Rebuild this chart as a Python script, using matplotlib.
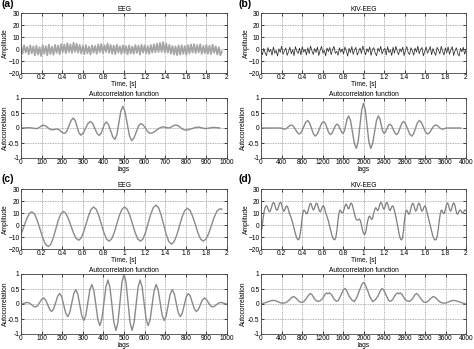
import numpy as np
import matplotlib
matplotlib.use("Agg")
import matplotlib.pyplot as plt

plt.rcParams['font.family'] = ['Liberation Sans', 'DejaVu Sans']

# --- sygnały czasowe ---
# (a) EEG, próbki co 0.015 s od 0 do 1.95 s
eeg_a = [2.5, -3.8, 3.2, -2.9, 1.8, -4.5, 3.0, -3.6, 2.2, -5.2,
         2.8, -4.6, 1.5, -5.8, 3.1, -3.9, 2.4, -5.3, 3.6, -4.1,
         2.0, -4.8, 3.4, -3.2, 2.9, -4.4, 4.1, -2.8, 3.7, -3.5,
         4.8, -2.6, 3.9, -3.3, 5.2, -2.4, 4.4, -3.0, 3.5, -3.8,
         2.7, -4.2, 3.3, -3.6, 1.9, -4.5, 3.0, -3.1, 2.6, -4.0,
         3.8, -2.7, 4.2, -3.4, 3.1, -2.5, 4.6, -3.2, 3.4, -3.9,
         2.9, -4.3, 3.6, -3.0, 2.3, -4.1, 3.2, -3.5, 2.5, -4.4,
         3.0, -3.7, 2.1, -4.0, 3.3, -3.2, 2.8, -4.6, 3.5, -3.0,
         3.0, -3.6, 2.4, -4.1, 3.3, -3.0, 3.9, -2.8, 4.4, -2.5,
         5.1, -2.4, 5.8, -2.7, 4.6, -3.0, 3.5, -3.9, 2.6, -4.6,
         2.2, -5.1, 2.9, -4.7, 3.1, -4.0, 2.5, -4.9, 3.2, -3.8,
         3.8, -3.0, 4.1, -3.5, 3.3, -2.9, 3.9, -4.0, 2.6, -3.4,
         3.4, -3.9, 2.8, -4.3, 3.6, -3.1, 2.3, -4.5, 1.5, -5.2, -2.0]

# (b) KIV-EEG, 0..2 s
eeg_b = [-1.0, -4.8, 0.5, -3.2, -5.6, 1.2, -2.4, -0.3, -5.1, 1.8,
         -3.5, -1.2, -5.8, 0.2, -2.8, 2.3, -4.4, -1.6, 0.9, -5.3,
         -2.1, 1.5, -4.0, -0.6, -5.5, 2.0, -1.8, -3.7, 0.7, -4.9,
         1.9, -2.6, -0.2, -5.0, 1.1, -3.9, 2.4, -1.4, -4.6, 0.4,
         -2.9, 1.6, -5.4, -0.9, 2.1, -3.3, -1.1, -5.7, 0.8, -2.2,
         1.3, -4.7, -0.5, 2.2, -3.6, -1.9, -5.2, 1.0, -2.7, 0.1,
         -4.3, 1.7, -1.5, -5.9, 0.6, -3.0, 2.0, -4.5, -0.8, 1.4,
         -5.1, -2.0, 0.9, -3.8, 2.5, -1.3, -4.9, 0.3, -2.5, 1.8,
         -5.3, -0.4, 1.2, -3.4, -5.6, 0.7, -2.1, 2.2, -4.2, -1.0,
         0.5, -5.0, 1.9, -2.9, -0.7, -5.4, 1.5, -3.6, 2.3, -1.7,
         -4.8, 0.2, -2.3, 1.6, -5.5, -0.9, 2.0, -3.1, -4.6, 1.1,
         -1.6, -5.2, 0.8, -2.6, 2.4, -4.0, -0.3, 1.3, -5.7, -2.0,
         1.7, -3.5, -1.2, 2.1, -4.7, 0.4, -2.8, -5.3, 1.4, -0.8,
         -4.1, 2.2, -1.9, -5.0, 0.9, -3.2, 1.8, -4.4, -0.5, 2.0,
         -5.4, -1.4, 1.0, -3.7, -5.8, 0.6, -2.4, 1.5, -4.3, -1.0]

# (c) EEG
eeg_c_t = [0, 0.015, 0.03, 0.055, 0.08, 0.105, 0.132, 0.158, 0.185, 0.212, 0.238, 0.265,
           0.289, 0.313, 0.338, 0.362, 0.386, 0.41, 0.435, 0.46, 0.485, 0.51, 0.535, 0.56,
           0.584, 0.608, 0.633, 0.657, 0.681, 0.705, 0.73, 0.755, 0.78, 0.805, 0.83, 0.855,
           0.88, 0.905, 0.93, 0.955, 0.98, 1.005, 1.031, 1.057, 1.083, 1.108, 1.134, 1.16,
           1.185, 1.21, 1.235, 1.26, 1.285, 1.31, 1.335, 1.36, 1.385, 1.41, 1.435, 1.46,
           1.486, 1.512, 1.538, 1.563, 1.589, 1.615, 1.641, 1.667, 1.693, 1.718, 1.744, 1.77,
           1.797, 1.823, 1.85, 1.877, 1.903, 1.93, 1.95]
eeg_c = [-7.7, -4.4, -0.8, 5.1, 9.4, 11, 9.1, 3.8, -3.5, -10.8, -16.1, -18,
         -16.0, -10.7, -3.4, 4.0, 9.3, 11.3, 9.7, 5.3, -0.7, -6.7, -11.1, -12.7,
         -10.8, -5.8, 1.2, 8.1, 13.1, 15, 13.1, 7.9, 0.8, -6.4, -11.6, -13.5,
         -11.6, -6.4, 0.8, 7.9, 13.1, 15, 13.1, 7.9, 0.8, -6.4, -11.6, -13.5,
         -11.5, -6.0, 1.6, 9.1, 14.6, 16.6, 14.4, 8.5, 0.3, -7.9, -13.8, -16,
         -14.0, -8.5, -1, 6.5, 12.0, 14, 12.2, 7.1, 0.3, -6.6, -11.7, -13.5,
         -11.7, -6.8, 0, 6.8, 11.7, 13.5, 13.2]

# (d) KIV-EEG, próbki co 0.01 s
eeg_d = [-7, -2, 5, 11, 14.5, 16, 15.5, 13, 11, 11.5, 14, 17, 18.8, 18, 15, 12.5, 12.5, 15, 18, 19,
         17.5, 14, 11.5, 12, 14.5, 16, 15, 12, 9, 7, 4.5, 1.5, -2, -5.5, -8.5, -11, -12.3, -12, -9, -3,
         5, 11, 12.5,
         11.5, 9.5, 9.5, 12, 15.5, 18, 17.5, 14.5, 12.5, 13.5, 16.5, 18.3, 17.5, 14.5, 11.5, 11, 13, 15.5, 16, 14,
         10.5, 8, 5.5, 2.5, -1, -4.5, -8, -10.5, -12, -12.3, -10.5, -5, 3, 9.5, 12.5,
         11.5, 10, 10.5, 13, 16, 17.5, 16, 13.5, 14, 17, 18.3, 17, 13.5, 10, 6.5, 4.5, 4, 4.5, 5, 3.5,
         0, -4, -7, -8, -6.5, -2, 3, 6.5, 7.5, 6, 4.5, 6, 10, 13,
         14.5, 13, 12, 14, 17.5, 19, 17.5, 14.5, 13, 15, 18, 18.8, 16.5, 13, 12, 14, 16, 15.5, 12.5, 9,
         5, 0.5, -4, -8.5, -11.5, -12.5, -11, -5, 4, 10.5, 12.5,
         11, 9, 9.5, 13, 16.5, 18.2, 17, 13.5, 11.5, 13, 16.5, 18.3, 17, 13.5, 11.5, 12.5, 15, 16, 14, 10.5,
         7, 3.5, 0, -3.5, -7, -10, -11.8, -12.5, -12, -9, -3, 4, 10, 12.5,
         11.5, 9.5, 10, 13.5, 17, 18.3, 16.5, 13, 11.5, 13.5, 17, 18.5, 17, 13, 9.5, 9, 11, 12.5, 12, 10.5,
         10, 11.5, 12.5, 12]

# --- funkcje autokorelacji ---
acf_a_lag = [0, 40, 75, 83.5, 92, 100.5, 109, 119.25, 129.5, 139.75, 150, 156, 162.5, 169, 175,
             184, 193.5, 203, 212, 222.5, 233, 243.5, 254, 263, 272, 281, 290, 301.75, 313.5, 325.25,
             337, 347.75, 358.5, 369.25, 380, 388.5, 397, 405.5, 414, 424.5, 435, 445.5, 456, 465.5,
             475, 484.5, 494, 504.75, 515.5, 526.25, 537, 548.25, 559.5, 570.75, 582, 593.25, 604.5,
             615.75, 627, 642.75, 658.5, 674.25, 690, 702, 715, 724, 733.5, 743, 752, 763, 774.5,
             786, 797, 813, 829.5, 846, 862, 878, 895, 915, 935, 950, 965]
acf_a = [0, 0.01, -0.02, -0.004, 0.035, 0.074, 0.09, 0.068, 0.015, -0.038, -0.06, -0.056, -0.048,
         -0.039, -0.035, -0.056, -0.108, -0.159, -0.18, -0.105, 0.075, 0.255, 0.33, 0.246, 0.045,
         -0.156, -0.24, -0.173, -0.01, 0.153, 0.22, 0.151, -0.015, -0.181, -0.25, -0.184, -0.025,
         0.134, 0.2, 0.115, -0.09, -0.295, -0.38, -0.219, 0.17, 0.559, 0.72, 0.553, 0.15, -0.253,
         -0.42, -0.336, -0.135, 0.067, 0.15, 0.102, -0.015, -0.132, -0.18, -0.148, -0.07, 0.008,
         0.04, 0.02, 0.0, 0.015, 0.05, 0.085, 0.1, 0.075, 0.015, -0.045, -0.07, -0.055, -0.02,
         0.015, 0.03, 0.005, -0.02, 0.0, 0.02, 0.01, 0.0]

acf_b_lag = [0, 380, 400, 420, 440, 460, 493.75, 527.5, 561.25, 595, 633.75, 672.5, 711.25, 750,
             790, 830, 870, 910, 947.5, 985, 1022.5, 1060, 1100, 1140, 1180, 1220, 1253.75, 1287.5,
             1321.25, 1355, 1387.5, 1420, 1452.5, 1485, 1513.75, 1542.5, 1571.25, 1600, 1627.5, 1655,
             1682.5, 1710, 1747.5, 1785, 1822.5, 1860, 1895, 1930, 1965, 2000, 2035, 2070, 2105, 2140,
             2177.5, 2215, 2252.5, 2290, 2317.5, 2345, 2372.5, 2400, 2428.75, 2457.5, 2486.25, 2515,
             2547.5, 2580, 2612.5, 2645, 2678.75, 2712.5, 2746.25, 2780, 2820, 2860, 2900, 2940,
             2977.5, 3015, 3052.5, 3090, 3130, 3170, 3210, 3250, 3288.75, 3327.5, 3366.25, 3405,
             3438.75, 3472.5, 3506.25, 3540, 3560, 3580, 3600, 3620, 3900]
acf_b = [0, 0, -0.006, -0.02, -0.034, -0.04, -0.019, 0.03, 0.079, 0.1, 0.056, -0.05, -0.156, -0.2,
         -0.134, 0.025, 0.184, 0.25, 0.174, -0.01, -0.194, -0.27, -0.198, -0.025, 0.148, 0.22, 0.156,
         0, -0.156, -0.22, -0.169, -0.045, 0.079, 0.13, 0.085, -0.025, -0.135, -0.18, -0.095, 0.11,
         0.315, 0.4, 0.242, -0.14, -0.522, -0.68, -0.46, 0.07, 0.6, 0.82, 0.6, 0.07, -0.46, -0.68,
         -0.522, -0.14, 0.242, 0.4, 0.315, 0.11, -0.095, -0.18, -0.135, -0.025, 0.085, 0.13, 0.079,
         -0.045, -0.169, -0.22, -0.156, 0, 0.156, 0.22, 0.148, -0.025, -0.198, -0.27, -0.194, -0.01,
         0.174, 0.25, 0.184, 0.025, -0.134, -0.2, -0.156, -0.05, 0.056, 0.1, 0.079, 0.03, -0.019,
         -0.04, -0.034, -0.02, -0.006, 0, 0]

acf_c_lag = [0, 8, 16, 24, 32, 41.75, 51.5, 61.25, 71, 80.75, 90.5, 100.25, 110, 119.75, 129.5,
             139.25, 149, 158.75, 168.5, 178.25, 188, 197.75, 207.5, 217.25, 227, 236.75, 246.5,
             256.25, 266, 275.75, 285.5, 295.25, 305, 314.75, 324.5, 334.25, 344, 353.75, 363.5,
             373.25, 383, 392.75, 402.5, 412.25, 422, 431.75, 441.5, 451.25, 461, 470.75, 480.5,
             490.25, 500,
             509.75, 519.5, 529.25, 539, 548.75, 558.5, 568.25, 578, 587.75, 597.5, 607.25, 617,
             626.75, 636.5, 646.25, 656, 665.75, 675.5, 685.25, 695, 704.75, 714.5, 724.25, 734,
             743.75, 753.5, 763.25, 773, 782.75, 792.5, 802.25, 812, 821.75, 831.5, 841.25, 851,
             860.75, 870.5, 880.25, 890, 899.75, 909.5, 919.25, 929, 938.75, 948.5, 958.25, 968,
             976, 984, 992, 1000]
acf_c = [0, 0.007, 0.025, 0.043, 0.05, 0.028, -0.025, -0.078, -0.1, -0.056, 0.05, 0.156, 0.2,
         0.134, -0.025, -0.184, -0.25, -0.162, 0.05, 0.262, 0.35, 0.237, -0.035, -0.307, -0.42,
         -0.288, 0.03, 0.348, 0.48, 0.329, -0.035, -0.399, -0.55, -0.374, 0.05, 0.474, 0.65, 0.449,
         -0.035, -0.519, -0.72, -0.497, 0.04, 0.577, 0.8, 0.554, -0.04, -0.634, -0.88, -0.605, 0.06,
         0.725, 1.0,
         0.725, 0.06, -0.605, -0.88, -0.634, -0.04, 0.554, 0.8, 0.577, 0.04, -0.497, -0.72, -0.519,
         -0.035, 0.449, 0.65, 0.474, 0.05, -0.374, -0.55, -0.399, -0.035, 0.329, 0.48, 0.348, 0.03,
         -0.288, -0.42, -0.307, -0.035, 0.237, 0.35, 0.262, 0.05, -0.162, -0.25, -0.184, -0.025,
         0.134, 0.2, 0.156, 0.05, -0.056, -0.1, -0.078, -0.025, 0.028, 0.05, 0.043, 0.025, 0.007, 0]

acf_d_lag = [0, 60, 130, 200, 250, 300, 350, 400, 450, 500, 550, 600, 640, 680, 730, 780, 830, 880,
             930, 965, 1000, 1050, 1100, 1150, 1200, 1250, 1280, 1310, 1340, 1380, 1430, 1470, 1510,
             1560, 1610, 1640, 1670, 1720, 1770, 1820, 1870, 1920, 1970, 2000,
             2030, 2080, 2130, 2180, 2230, 2280, 2330, 2360, 2390, 2440, 2490, 2530, 2570, 2620,
             2660, 2690, 2720, 2750, 2800, 2850, 2900, 2950, 3000, 3035, 3070, 3120, 3170, 3220,
             3270, 3320, 3360, 3400, 3450, 3500, 3550, 3600, 3650, 3700, 3750, 3800, 3870, 3940, 4000]
acf_d = [0, 0.03, 0.07, 0.11, 0.12, 0.1, 0.06, 0.03, 0.03, 0.06, 0.13, 0.22, 0.25, 0.2, 0.11, 0.05,
         0.07, 0.17, 0.3, 0.35, 0.3, 0.16, 0.09, 0.1, 0.18, 0.32, 0.37, 0.34, 0.37, 0.3, 0.15, 0.09,
         0.12, 0.3, 0.48, 0.52, 0.45, 0.26, 0.14, 0.08, 0.22, 0.45, 0.66, 0.72,
         0.66, 0.45, 0.22, 0.08, 0.14, 0.26, 0.45, 0.52, 0.48, 0.3, 0.12, 0.09, 0.15, 0.3, 0.37,
         0.34, 0.37, 0.32, 0.18, 0.1, 0.09, 0.16, 0.3, 0.35, 0.3, 0.17, 0.07, 0.05, 0.11, 0.2,
         0.25, 0.22, 0.13, 0.06, 0.03, 0.03, 0.06, 0.1, 0.12, 0.11, 0.07, 0.03, 0]

# osie czasu (stały krok próbkowania)
t_a = np.linspace(0, 1.95, len(eeg_a))
t_b = np.linspace(0, 2, len(eeg_b))
t_d = np.linspace(0, 2, len(eeg_d))

time_ticks = [0, 0.2, 0.4, 0.6, 0.8, 1, 1.2, 1.4, 1.6, 1.8, 2]
time_labels = ['0', '0.2', '0.4', '0.6', '0.8', '1', '1.2', '1.4', '1.6', '1.8', '2']
amp_ticks = [-20, -10, 0, 10, 20, 30]
acf_ticks = [-1, -0.5, 0, 0.5, 1]
acf_labels = ['-1', '-0.5', '0', '0.5', '1']
lag_ticks_short = list(range(0, 1001, 100))
lag_ticks_long = list(range(0, 4001, 400))

fig = plt.figure(figsize=(4.74, 3.49), dpi=100)
W, H = 474.0, 349.0
FS = 4.8


def make_ax(x0, x1, y0, y1, ylab_x):
    ax = fig.add_axes([x0 / W, 1 - y1 / H, (x1 - x0) / W, (y1 - y0) / H])
    ax.grid(True, linestyle=(0, (1, 1)), color='#9a9a9a', linewidth=0.6)
    ax.tick_params(direction='in', length=2, width=0.5, labelsize=FS, pad=1,
                   top=True, right=True)
    for s in ax.spines.values():
        s.set_linewidth(0.6)
        s.set_color('#444444')
    # prawa krawędź podpisu osi Y (piksele figury)
    ax.yaxis.set_label_coords((ylab_x - x0) / (x1 - x0), 0.5)
    return ax


def signal_ax(ax, title):
    ax.set_xlim(0, 2)
    ax.set_ylim(-20, 30)
    ax.set_xticks(time_ticks)
    ax.set_xticklabels(time_labels)
    ax.set_yticks(amp_ticks)
    ax.set_title(title, fontsize=FS, pad=1.5)
    ax.set_xlabel('Time, [s]', fontsize=FS, labelpad=0)
    ax.set_ylabel('Amplitude', fontsize=FS)


def acf_ax(ax, ticks):
    ax.set_xlim(ticks[0], ticks[-1])
    ax.set_ylim(-1, 1)
    ax.set_xticks(ticks)
    ax.set_yticks(acf_ticks)
    ax.set_yticklabels(acf_labels)
    ax.set_title('Autocorrelation function', fontsize=FS, pad=1.5)
    ax.set_xlabel('lags', fontsize=FS, labelpad=0)
    ax.set_ylabel('Autocorrelation', fontsize=FS)


LX0, LX1 = 21, 227
RX0, RX1 = 261, 466
line_col = '#8a8a8a'

# wiersz 1
ax = make_ax(LX0, LX1, 13, 73, 8.5)
ax.plot(t_a, eeg_a, color='#a6a6a6', lw=1.3)
signal_ax(ax, 'EEG')

ax = make_ax(RX0, RX1, 13, 73, 250)
ax.plot(t_b, eeg_b, color='#2e2e2e', lw=0.55)
signal_ax(ax, 'KIV-EEG')

# wiersz 2
ax = make_ax(LX0, LX1, 98, 158, 8.5)
ax.plot(acf_a_lag, acf_a, color=line_col, lw=1.0)
acf_ax(ax, lag_ticks_short)

ax = make_ax(RX0, RX1, 98, 158, 246.5)
ax.plot(acf_b_lag, acf_b, color=line_col, lw=1.0)
acf_ax(ax, lag_ticks_long)

# wiersz 3
ax = make_ax(LX0, LX1, 189, 249, 8.5)
ax.plot(eeg_c_t, eeg_c, color=line_col, lw=1.0)
signal_ax(ax, 'EEG')

ax = make_ax(RX0, RX1, 189, 249, 249.5)
ax.plot(t_d, eeg_d, color='#7e7e7e', lw=0.9)
signal_ax(ax, 'KIV-EEG')

# wiersz 4
ax = make_ax(LX0, LX1, 274, 334, 8.5)
ax.plot(acf_c_lag, acf_c, color=line_col, lw=1.0)
acf_ax(ax, lag_ticks_short)

ax = make_ax(RX0, RX1, 274, 334, 246.5)
ax.plot(acf_d_lag, acf_d, color=line_col, lw=1.0)
acf_ax(ax, lag_ticks_long)

# oznaczenia paneli
for lbl, px, py in [('(a)', 2, 4), ('(b)', 239, 4), ('(c)', 2, 179), ('(d)', 239, 179)]:
    fig.text(px / W, 1 - py / H, lbl, fontsize=7.5, fontweight='bold', va='center', ha='left')

fig.savefig('out.png', dpi=100)
